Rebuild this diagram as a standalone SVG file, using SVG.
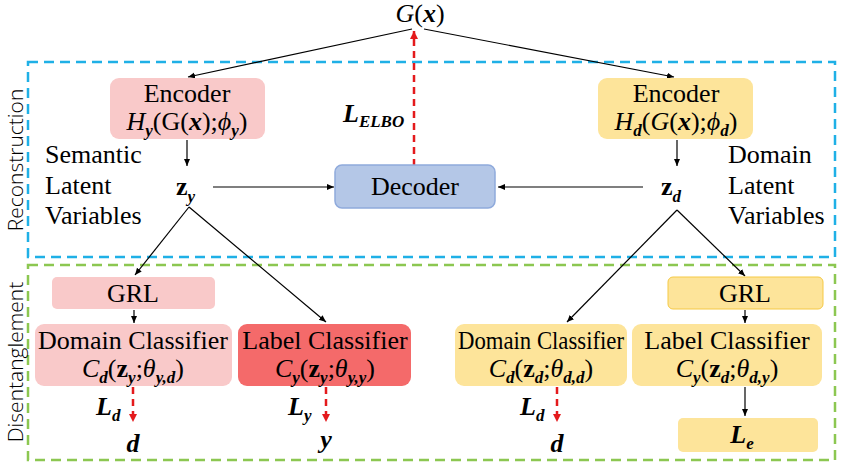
<svg xmlns="http://www.w3.org/2000/svg" width="841" height="468" viewBox="0 0 841 468" font-family="Liberation Serif, serif" font-size="26">
<defs>
<marker id="ab" markerWidth="8" markerHeight="8" refX="7" refY="4" orient="auto" markerUnits="userSpaceOnUse"><path d="M0,1 L7,4 L0,7 z" fill="#000"/></marker>
<marker id="ar" markerWidth="10" markerHeight="10" refX="8" refY="5" orient="auto" markerUnits="userSpaceOnUse"><path d="M0,1 L8,5 L0,9 z" fill="#e41a1c"/></marker>
</defs>
<style>
.c{text-anchor:middle}
.i{font-style:italic}
.b{font-weight:bold}
.s{font-size:17px}
.ln{stroke:#000;stroke-width:1.2;fill:none;marker-end:url(#ab)}
.rd{stroke:#e41a1c;stroke-width:2.5;stroke-dasharray:7,5;fill:none;marker-end:url(#ar)}
.pink{fill:#f9c9c9}
.yel{fill:#fde49a}
</style>
<rect x="28" y="62" width="807" height="195" fill="none" stroke="#1fb0e6" stroke-width="2.5" stroke-dasharray="10,6"/>
<rect x="28" y="265" width="807" height="195" fill="none" stroke="#8cc751" stroke-width="2.5" stroke-dasharray="10,6"/>
<text font-family="Open Sans, DejaVu Sans, sans-serif" font-size="21" font-weight="300" text-anchor="middle" transform="translate(23,160) rotate(-90)">Reconstruction</text>
<text font-family="Open Sans, DejaVu Sans, sans-serif" font-size="21" font-weight="300" text-anchor="middle" transform="translate(23,362) rotate(-90)">Disentanglement</text>
<g id="connectors">
<line class="ln" x1="412" y1="29" x2="188" y2="77"/>
<line class="ln" x1="424" y1="29" x2="674" y2="77"/>
<line class="ln" x1="187" y1="140" x2="187" y2="166"/>
<line class="ln" x1="677" y1="140" x2="677" y2="166"/>
<line class="ln" x1="213" y1="187" x2="334" y2="187"/>
<line class="ln" x1="643" y1="187" x2="498" y2="187"/>
<line class="ln" x1="189" y1="207" x2="135" y2="275"/>
<line class="ln" x1="189" y1="207" x2="326" y2="322"/>
<line class="ln" x1="677" y1="210" x2="567" y2="322"/>
<line class="ln" x1="677" y1="210" x2="745" y2="276"/>
<line class="ln" x1="134" y1="310" x2="134" y2="323"/>
<line class="ln" x1="745" y1="310" x2="745" y2="323"/>
<line class="ln" x1="745" y1="387" x2="745" y2="416"/>
<line class="rd" x1="414" y1="166" x2="414" y2="31"/>
<line class="rd" x1="133" y1="387" x2="133" y2="422"/>
<line class="rd" x1="326" y1="387" x2="326" y2="422"/>
<line class="rd" x1="557" y1="387" x2="557" y2="422"/>
</g>
<g id="gx"><text x="420" y="22" class="c"><tspan class="i">G</tspan>(<tspan class="i b">x</tspan>)</text></g>
<g id="encY"><rect x="110" y="78" width="155" height="61" rx="9" class="pink"/>
<text x="187" y="102" class="c">Encoder</text>
<text x="187" y="130" class="c"><tspan class="i">H</tspan><tspan class="i b s" dy="6">y</tspan><tspan dy="-6">(G(</tspan><tspan class="i b">x</tspan>);<tspan class="i">ϕ</tspan><tspan class="i b s" dy="6">y</tspan><tspan dy="-6">)</tspan></text></g>
<g id="encD"><rect x="598" y="78" width="155" height="61" rx="9" class="yel"/>
<text x="676" y="102" class="c">Encoder</text>
<text x="676" y="130" class="c"><tspan class="i">H</tspan><tspan class="i b s" dy="6">d</tspan><tspan dy="-6">(</tspan><tspan class="i">G</tspan>(<tspan class="i b">x</tspan>);<tspan class="i">ϕ</tspan><tspan class="i b s" dy="6">d</tspan><tspan dy="-6">)</tspan></text></g>
<g id="lelbo"><text x="343" y="122" class="i b">L<tspan class="s" dy="5">ELBO</tspan></text></g>
<g id="decoder"><rect x="335" y="165" width="160" height="43" rx="7" fill="#b4c7e7" stroke="#8faadc" stroke-width="1.5"/>
<text x="415" y="195" class="c">Decoder</text></g>
<g id="zy"><text x="176" y="195" class="b">z<tspan class="i s" dy="7">y</tspan></text>
<text x="45" y="163">Semantic</text><text x="45" y="194">Latent</text><text x="45" y="224">Variables</text></g>
<g id="zd"><text x="661" y="195" class="b">z<tspan class="i s" dy="7">d</tspan></text>
<text x="728" y="163">Domain</text><text x="728" y="194">Latent</text><text x="728" y="224">Variables</text></g>
<g id="grlY"><rect x="52" y="277" width="163" height="32" rx="5" class="pink"/><text x="133" y="302" class="c">GRL</text></g>
<g id="grlD"><rect x="668" y="277" width="155" height="32" rx="5" class="yel" stroke="#f5c944"/><text x="745" y="302" class="c">GRL</text></g>
<g id="dcY"><rect x="35" y="324" width="197" height="62" rx="9" class="pink"/>
<text x="133" y="349" class="c">Domain Classifier</text>
<text x="133" y="377" class="c"><tspan class="i">C</tspan><tspan class="i b s" dy="6">d</tspan><tspan dy="-6">(</tspan><tspan class="b">z</tspan><tspan class="i b s" dy="6">y</tspan><tspan dy="-6">;</tspan><tspan class="i">θ</tspan><tspan class="i b s" dy="6">y,d</tspan><tspan dy="-6">)</tspan></text></g>
<g id="lcY"><rect x="238" y="324" width="173" height="62" rx="9" fill="#f46a6a"/>
<text x="325" y="349" class="c">Label Classifier</text>
<text x="325" y="377" class="c"><tspan class="i">C</tspan><tspan class="i b s" dy="6">y</tspan><tspan dy="-6">(</tspan><tspan class="b">z</tspan><tspan class="i b s" dy="6">y</tspan><tspan dy="-6">;</tspan><tspan class="i">θ</tspan><tspan class="i b s" dy="6">y,y</tspan><tspan dy="-6">)</tspan></text></g>
<g id="dcD"><rect x="455" y="324" width="172" height="62" rx="9" class="yel"/>
<text x="541" y="349" class="c" textLength="166" lengthAdjust="spacingAndGlyphs">Domain Classifier</text>
<text x="541" y="377" class="c"><tspan class="i">C</tspan><tspan class="i b s" dy="6">d</tspan><tspan dy="-6">(</tspan><tspan class="b">z</tspan><tspan class="i b s" dy="6">d</tspan><tspan dy="-6">;</tspan><tspan class="i">θ</tspan><tspan class="i b s" dy="6">d,d</tspan><tspan dy="-6">)</tspan></text></g>
<g id="lcD"><rect x="632" y="324" width="190" height="62" rx="9" class="yel"/>
<text x="727" y="349" class="c">Label Classifier</text>
<text x="727" y="377" class="c"><tspan class="i">C</tspan><tspan class="i b s" dy="6">y</tspan><tspan dy="-6">(</tspan><tspan class="b">z</tspan><tspan class="i b s" dy="6">d</tspan><tspan dy="-6">;</tspan><tspan class="i">θ</tspan><tspan class="i b s" dy="6">d,y</tspan><tspan dy="-6">)</tspan></text></g>
<g id="outs">
<text x="96" y="415" class="i b">L<tspan class="s" dy="6">d</tspan></text>
<text x="133" y="452" class="c i b">d</text>
<text x="288" y="415" class="i b">L<tspan class="s" dy="6">y</tspan></text>
<text x="326" y="448" class="c i b">y</text>
<text x="520" y="415" class="i b">L<tspan class="s" dy="6">d</tspan></text>
<text x="557" y="452" class="c i b">d</text>
</g>
<g id="le"><rect x="678" y="418" width="140" height="34" rx="5" class="yel"/>
<text x="742" y="443" class="c i b">L<tspan class="s" dy="6">e</tspan></text></g>
</svg>
